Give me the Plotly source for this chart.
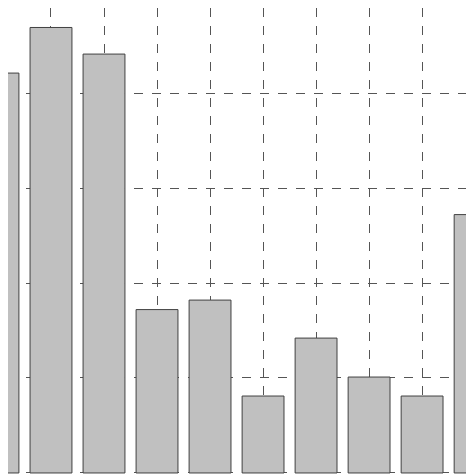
import plotly.graph_objects as go

positions = [0, 1, 2, 3, 4, 5, 6, 7, 8, 9]
values = [4.21, 4.69, 4.41, 1.72, 1.82, 0.81, 1.42, 1.01, 0.81, 2.72]

fig = go.Figure(go.Bar(
    x=positions, y=values, width=0.79,
    marker=dict(color="#c0c0c0", line=dict(color="#404040", width=1)),
))
grid = dict(showgrid=True, gridcolor="#555555", griddash="dash", gridwidth=0.7,
            dtick=1, showticklabels=False, zeroline=False, showline=False, ticks="")
fig.update_layout(
    width=474, height=474, margin=dict(l=0, r=0, t=0, b=0),
    plot_bgcolor="white", paper_bgcolor="white", showlegend=False,
    xaxis=dict(range=[0.189, 9.13], tick0=0, **grid),
    yaxis=dict(range=[-0.095, 4.895], tick0=0, **grid),
)
fig.write_html("out.html")
